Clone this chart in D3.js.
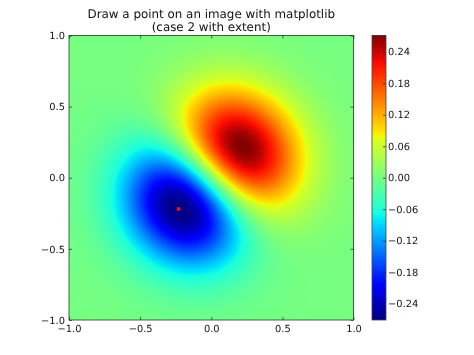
<!DOCTYPE html>
<html><head><meta charset="utf-8">
<script src="https://cdn.jsdelivr.net/npm/d3@7/dist/d3.min.js"></script>
<style>
html,body{margin:0;padding:0;background:#fff;overflow:hidden}
#wrap{position:relative;width:474px;height:355px}
canvas,svg{position:absolute;left:0;top:0}
text{font-family:"DejaVu Sans",sans-serif;fill:#111;text-rendering:geometricPrecision}
</style></head><body><div id="wrap"></div>
<script>
const titleLines = ["Draw a point on an image with matplotlib", "(case 2 with extent)"];
const gridX = [-1,-.9,-.8,-.7,-.6,-.5,-.4,-.3,-.2,-.1,0,.1,.2,.3,.4,.5,.6,.7,.8,.9,1];
const gridY = [1,.9,.8,.7,.6,.5,.4,.3,.2,.1,0,-.1,-.2,-.3,-.4,-.5,-.6,-.7,-.8,-.9,-1];
const gridValues = [
[0,0,0,0,0,.001,.002,.003,.005,.006,.007,.007,.007,.006,.004,.003,.002,.001,0,0,0],
[0,0,0,0,.001,.002,.004,.007,.010,.013,.015,.016,.015,.013,.010,.007,.004,.002,.001,0,0],
[0,0,0,0,.001,.004,.007,.013,.020,.027,.033,.035,.034,.029,.022,.015,.009,.005,.003,.001,0],
[0,0,0,0,.001,.005,.012,.022,.035,.049,.060,.065,.063,.055,.042,.030,.018,.010,.005,.002,.001],
[0,-.001,-.001,-.001,0,.005,.015,.032,.054,.078,.099,.110,.108,.095,.074,.052,.033,.018,.009,.004,.002],
[-.001,-.002,-.004,-.005,-.005,0,.013,.037,.071,.109,.144,.164,.165,.146,.116,.082,.052,.030,.015,.007,.003],
[-.002,-.004,-.007,-.012,-.015,-.013,0,.029,.074,.128,.180,.213,.221,.201,.161,.116,.074,.042,.022,.010,.004],
[-.003,-.007,-.013,-.022,-.032,-.037,-.029,0,.052,.121,.191,.243,.261,.244,.201,.146,.095,.055,.029,.013,.006],
[-.005,-.010,-.020,-.035,-.054,-.071,-.074,-.052,0,.078,.164,.234,.268,.261,.221,.165,.108,.063,.034,.015,.007],
[-.006,-.013,-.027,-.049,-.078,-.109,-.128,-.121,-.078,0,.095,.181,.234,.243,.213,.164,.110,.065,.035,.016,.007],
[-.007,-.015,-.033,-.060,-.099,-.144,-.180,-.191,-.164,-.095,0,.095,.164,.191,.180,.144,.099,.060,.033,.015,.007],
[-.007,-.016,-.035,-.065,-.110,-.164,-.213,-.243,-.234,-.181,-.095,0,.078,.121,.128,.109,.078,.049,.027,.013,.006],
[-.007,-.015,-.034,-.063,-.108,-.165,-.221,-.261,-.268,-.234,-.164,-.078,0,.052,.074,.071,.054,.035,.020,.010,.005],
[-.006,-.013,-.029,-.055,-.095,-.146,-.201,-.244,-.261,-.243,-.191,-.121,-.052,0,.029,.037,.032,.022,.013,.007,.003],
[-.004,-.010,-.022,-.042,-.074,-.116,-.161,-.201,-.221,-.213,-.180,-.128,-.074,-.029,0,.013,.015,.012,.007,.004,.002],
[-.003,-.007,-.015,-.030,-.052,-.082,-.116,-.146,-.165,-.164,-.144,-.109,-.071,-.037,-.013,0,.005,.005,.004,.002,.001],
[-.002,-.004,-.009,-.018,-.033,-.052,-.074,-.095,-.108,-.110,-.099,-.078,-.054,-.032,-.015,-.005,0,.001,.001,.001,0],
[-.001,-.002,-.005,-.010,-.018,-.030,-.042,-.055,-.063,-.065,-.060,-.049,-.035,-.022,-.012,-.005,-.001,0,0,0,0],
[0,-.001,-.003,-.005,-.009,-.015,-.022,-.029,-.034,-.035,-.033,-.027,-.020,-.013,-.007,-.004,-.001,0,0,0,0],
[0,0,-.001,-.002,-.004,-.007,-.010,-.013,-.015,-.016,-.015,-.013,-.010,-.007,-.004,-.002,-.001,0,0,0,0],
[0,0,0,-.001,-.002,-.003,-.004,-.006,-.007,-.007,-.007,-.006,-.005,-.003,-.002,-.001,0,0,0,0,0]
];
const axisTicks = [-1,-.5,0,.5,1];
const colorbarTicks = [-.24,-.18,-.12,-.06,0,.06,.12,.18,.24];
const point = [{x:-.23, y:-.22}];
const valueDomain = [-.271,.271];
const jetStops = [0,.11,.125,.34,.35,.375,.64,.65,.66,.89,.91,1];
const jetColors = ["#00007f","#0000f1","#0000ff","#00dbff","#00e5f7","#16ffe1","#e1ff16","#f7f400","#ffe600","#ff1300","#f10800","#7f0000"];

const W=474,H=355;
const ax={l:69,r:353.5,t:35.5,b:320};
const cb={l:372,r:386,t:35.5,b:320};
const wrap=d3.select("#wrap");

const x=d3.scaleLinear().domain([-1,1]).range([ax.l,ax.r]);
const y=d3.scaleLinear().domain([-1,1]).range([ax.b,ax.t]);
const cy=d3.scaleLinear().domain(valueDomain).range([cb.b,cb.t]);
const toUnit=d3.scaleLinear().domain(valueDomain).range([0,1]).clamp(true);
const jet=d3.scaleLinear().domain(jetStops).range(jetColors).interpolate(d3.interpolateRgb).clamp(true);
const colour=v=>d3.rgb(jet(toUnit(v)));

// Colour every pixel by resampling the grid smoothly (display only, like imshow).
const colX=d3.scaleLinear().domain(d3.extent(gridX)).range([0,gridX.length-1]);
const rowY=d3.scaleLinear().domain(d3.extent(gridY).reverse()).range([0,gridY.length-1]);
const N=gridX.length;
const cr=(a,b,c,d,t)=>.5*((2*b)+(c-a)*t+(2*a-5*b+4*c-d)*t*t+(3*b-a-3*c+d)*t*t*t);
const at=(j,i)=>gridValues[Math.max(0,Math.min(N-1,j))][Math.max(0,Math.min(N-1,i))];
function sample(dx,dy){
  const cx=colX(dx), ry=rowY(dy);
  const i=Math.floor(cx), j=Math.floor(ry), u=cx-i, v=ry-j;
  const row=r=>cr(at(r,i-1),at(r,i),at(r,i+1),at(r,i+2),u);
  return cr(row(j-1),row(j),row(j+1),row(j+2),v);
}
const canvas=wrap.append("canvas").attr("width",W).attr("height",H).node();
const ctx=canvas.getContext("2d");
const img=ctx.createImageData(W,H);
for(let py=0;py<H;py++)for(let px=0;px<W;px++){
  const k=4*(py*W+px); let c=null;
  const sx=px+.5, sy=py+.5;
  if(sx>=ax.l&&sx<=ax.r&&sy>=ax.t&&sy<=ax.b) c=colour(sample(x.invert(sx),y.invert(sy)));
  else if(sx>=cb.l&&sx<=cb.r&&sy>=cb.t&&sy<=cb.b) c=colour(cy.invert(sy));
  if(c){img.data[k]=c.r;img.data[k+1]=c.g;img.data[k+2]=c.b;img.data[k+3]=255;}
  else{img.data[k]=img.data[k+1]=img.data[k+2]=img.data[k+3]=255;}
}
ctx.putImageData(img,0,0);

const svg=wrap.append("svg").attr("width",W).attr("height",H);
const fmt=d3.format(".1f"), fmt2=d3.format(".2f");
function styleAxis(g){
  g.select(".domain").remove();
  g.selectAll("line").attr("stroke","#222").attr("stroke-width",.7);
  g.selectAll("text").style("font-size","9.9px").style("fill","#111");
}
svg.append("g").attr("transform",`translate(0,${ax.b})`)
  .call(d3.axisBottom(x).tickValues(axisTicks).tickFormat(fmt).tickSizeInner(-3).tickSizeOuter(0).tickPadding(5)).call(styleAxis);
svg.append("g").attr("transform",`translate(0,${ax.t})`)
  .call(d3.axisTop(x).tickValues(axisTicks).tickFormat("").tickSizeInner(-3).tickSizeOuter(0)).call(styleAxis);
svg.append("g").attr("transform",`translate(${ax.l},0)`)
  .call(d3.axisLeft(y).tickValues(axisTicks).tickFormat(fmt).tickSizeInner(-3).tickSizeOuter(0).tickPadding(4)).call(styleAxis);
svg.append("g").attr("transform",`translate(${ax.r},0)`)
  .call(d3.axisRight(y).tickValues(axisTicks).tickFormat("").tickSizeInner(-3).tickSizeOuter(0)).call(styleAxis);
svg.append("g").attr("transform",`translate(${cb.r},0)`)
  .call(d3.axisRight(cy).tickValues(colorbarTicks).tickFormat(fmt2).tickSizeInner(-3).tickSizeOuter(0).tickPadding(2)).call(styleAxis);

svg.append("rect").attr("x",ax.l).attr("y",ax.t).attr("width",ax.r-ax.l).attr("height",ax.b-ax.t)
  .attr("fill","none").attr("stroke","#2a3a2a").attr("stroke-width",.8);
svg.append("rect").attr("x",cb.l).attr("y",cb.t).attr("width",cb.r-cb.l).attr("height",cb.b-cb.t)
  .attr("fill","none").attr("stroke","#444").attr("stroke-width",.8);

svg.selectAll("circle.pt").data(point).join("circle").attr("class","pt")
  .attr("cx",d=>x(d.x)).attr("cy",d=>y(d.y)).attr("r",2).attr("fill","#f01030");

svg.selectAll("text.title").data(titleLines).join("text").attr("class","title")
  .attr("x",(ax.l+ax.r)/2).attr("y",(d,i)=>18+i*13.2).attr("text-anchor","middle")
  .style("font-size","11.9px").text(d=>d);
</script></body></html>
